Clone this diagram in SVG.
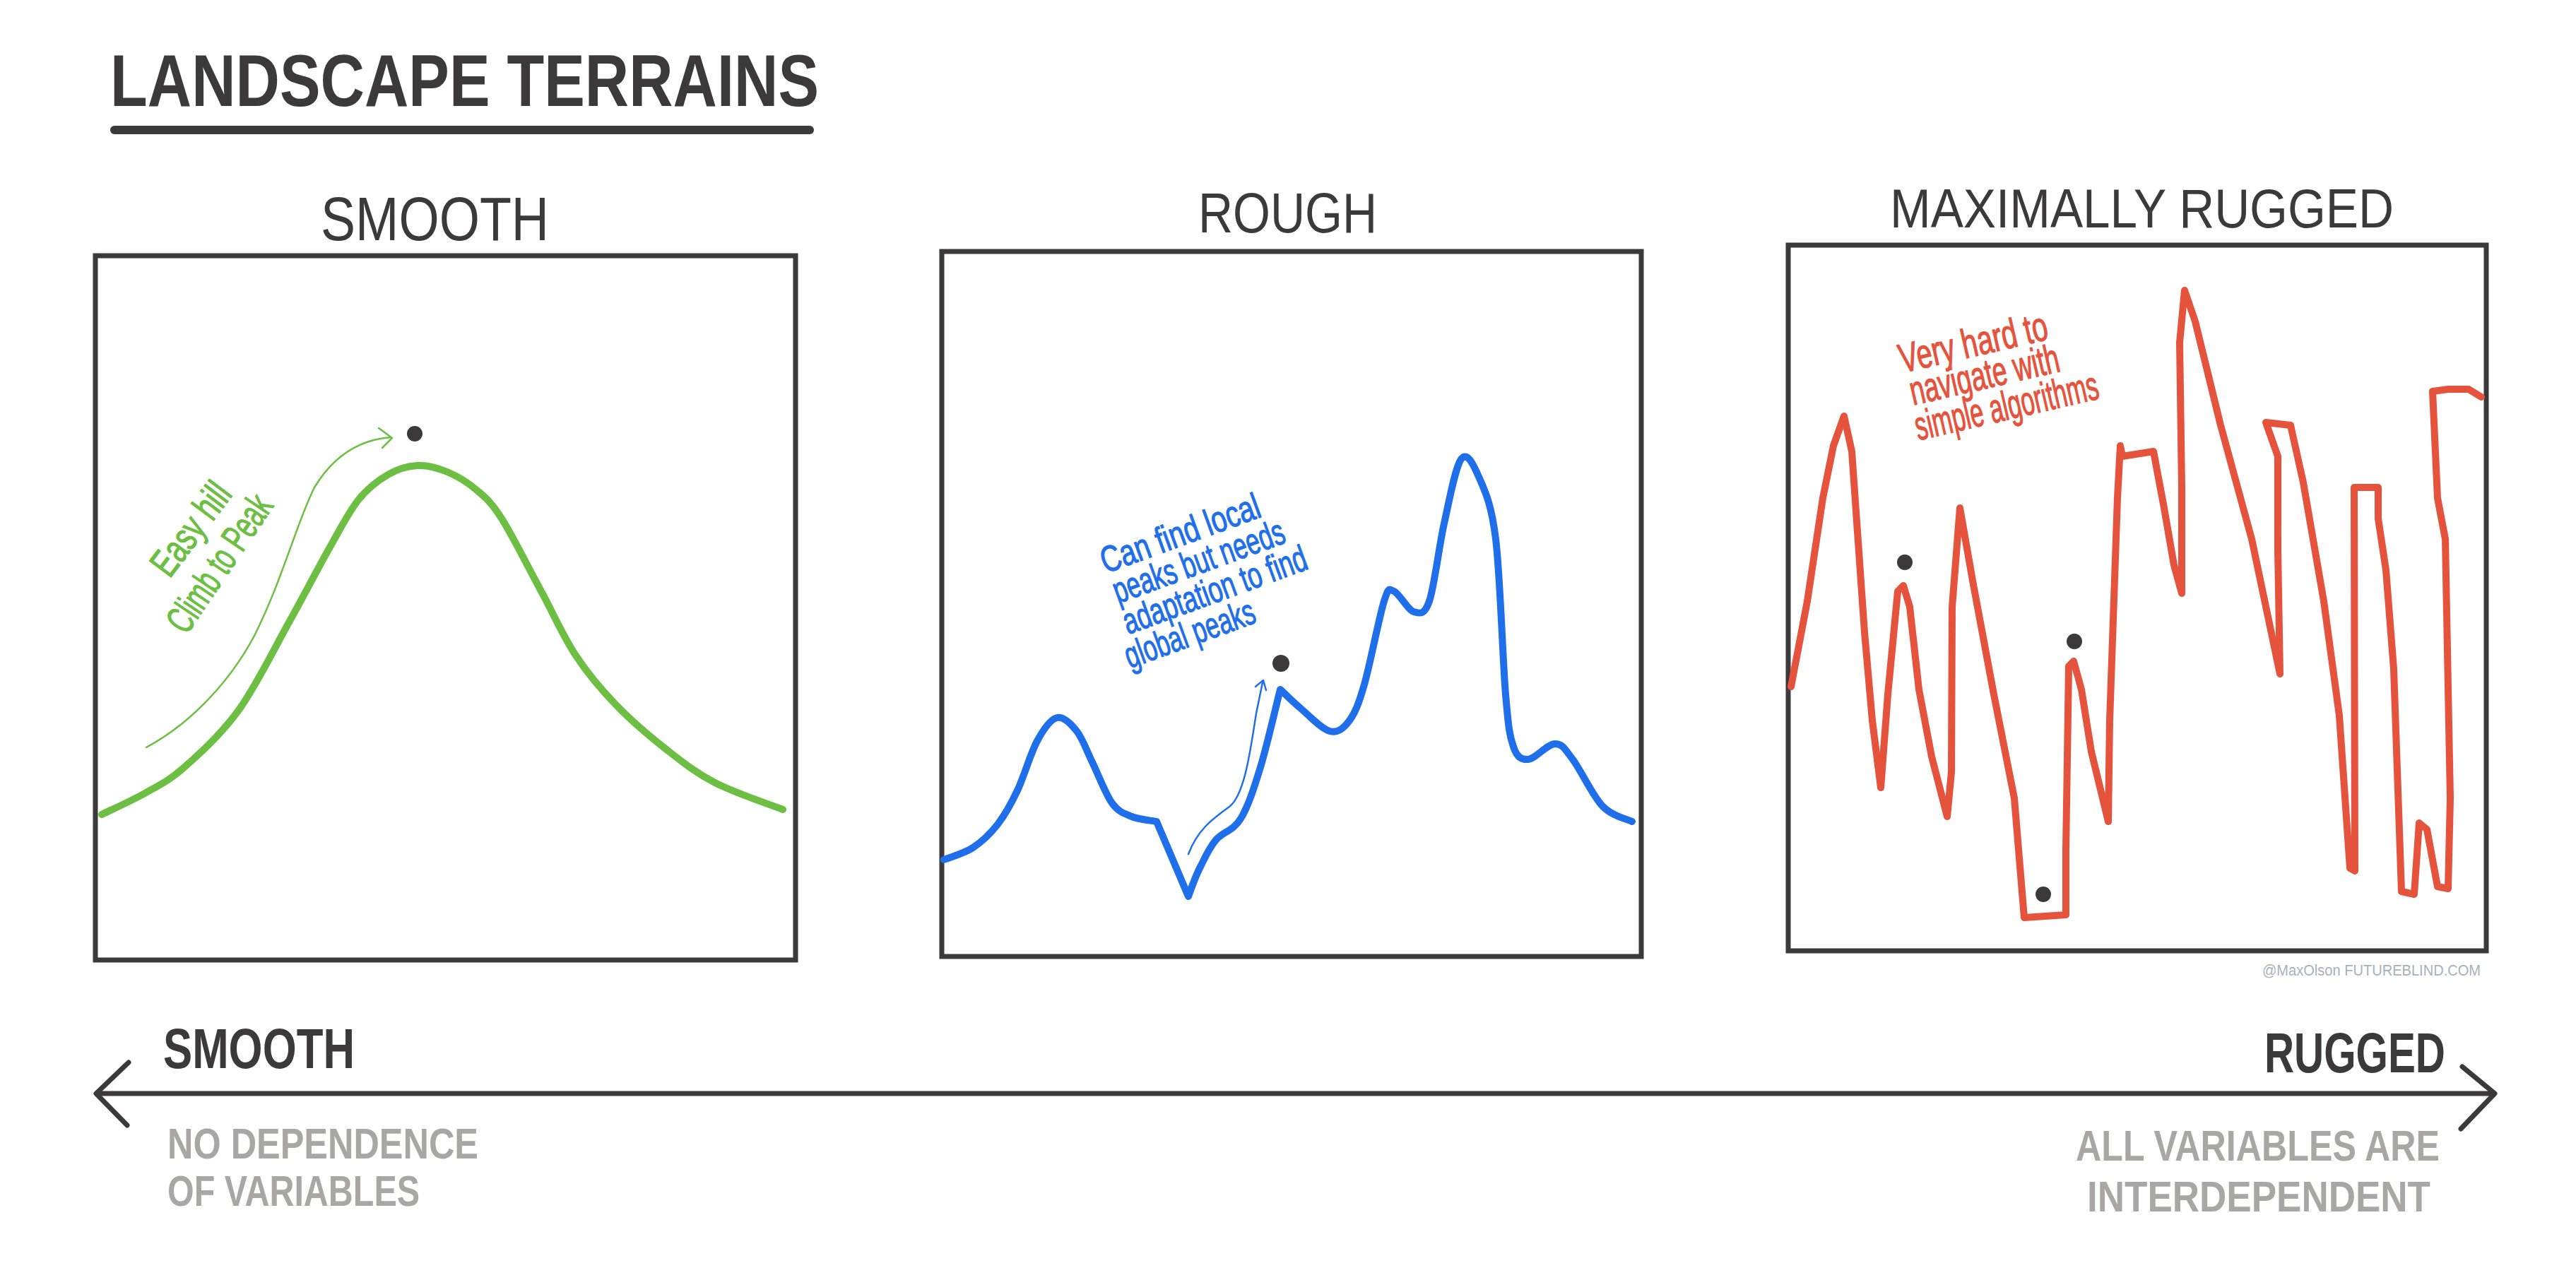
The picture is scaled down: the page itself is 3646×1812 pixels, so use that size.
<svg xmlns="http://www.w3.org/2000/svg" width="3646" height="1812" viewBox="0 0 3646 1812">
<style>
.ink{fill:#3b3939;font-family:"Liberation Sans",Arial,sans-serif}
.b{font-weight:bold}
.gray{fill:#a8a7a3;font-family:"Liberation Sans",Arial,sans-serif;font-weight:bold;font-size:62px}
.box{fill:none;stroke:#3b3939;stroke-width:7;stroke-linejoin:miter}
.curve{fill:none;stroke-width:10;stroke-linecap:round;stroke-linejoin:round}
.thin{fill:none;stroke-width:2.5;stroke-linecap:round;stroke-linejoin:round}
.dot{fill:#3b3939}
.note{font-family:"Liberation Sans",Arial,sans-serif;stroke-width:1.2;stroke-linejoin:round}
</style>
<rect width="3646" height="1812" fill="#ffffff"/>

<g id="title">
<text class="ink b" x="156" y="150" font-size="104" textLength="1003" lengthAdjust="spacingAndGlyphs">LANDSCAPE TERRAINS</text>
<line x1="162" y1="184" x2="1146" y2="184" stroke="#3b3939" stroke-width="12" stroke-linecap="round"/>
</g>

<g id="panel-smooth">
<text class="ink" x="454" y="340" font-size="88" textLength="323" lengthAdjust="spacingAndGlyphs">SMOOTH</text>
<rect class="box" x="135" y="362" width="991" height="997"/>
<path class="curve" stroke="#6cbf42" d="M144,1153 C154,1148 185.5,1134 205,1123 C224.5,1112 238.8,1105.7 261,1086 C283.2,1066.3 313.3,1039.2 338,1005 C362.7,970.8 387.8,918.8 409,881 C430.2,843.2 448.7,806.8 465,778 C481.3,749.2 493,725.7 507,708 C521,690.3 535,680.2 549,672 C563,663.8 577,659.7 591,659 C605,658.3 619,662.2 633,668 C647,673.8 662.2,683 675,694 C687.8,705 694.8,710.2 710,734 C725.2,757.8 748.5,804.7 766,837 C783.5,869.3 797.3,901.2 815,928 C832.7,954.8 850.8,976 872,998 C893.2,1020 918.7,1041.7 942,1060 C965.3,1078.3 984.3,1093.7 1012,1108 C1039.7,1122.3 1092,1139.7 1108,1146"/>
<path class="thin" stroke="#6cbf42" d="M207,1058 C260,1030 320,975 360,900 C400,820 420,740 445,690 C475,640 515,622 553,619"/>
<polyline class="thin" stroke="#6cbf42" points="536,606 555,620 541,634"/>
<circle class="dot" cx="587" cy="614" r="11"/>
<text class="note" fill="#6cbf42" stroke="#6cbf42" font-size="56" transform="translate(240,820) rotate(-53)" textLength="150" lengthAdjust="spacingAndGlyphs">Easy hill</text>
<text class="note" fill="#6cbf42" stroke="#6cbf42" font-size="56" transform="translate(264,900) rotate(-56)" textLength="222" lengthAdjust="spacingAndGlyphs">Climb to Peak</text>
</g>

<g id="panel-rough">
<text class="ink" x="1696" y="329" font-size="80" textLength="253" lengthAdjust="spacingAndGlyphs">ROUGH</text>
<rect class="box" x="1333" y="356" width="990" height="998"/>
<path class="curve" stroke="#1f6feb" d="M1336,1217 C1342.8,1214.2 1364.3,1208.3 1377,1200 C1389.7,1191.7 1401.5,1180.5 1412,1167 C1422.5,1153.5 1430.7,1138.7 1440,1119 C1449.3,1099.3 1458.7,1066.2 1468,1049 C1477.3,1031.8 1486.7,1018.3 1496,1016 C1505.3,1013.7 1515.7,1024.5 1524,1035 C1532.3,1045.5 1537.7,1062 1546,1079 C1554.3,1096 1564.7,1124.2 1574,1137 C1583.3,1149.8 1591.5,1151.7 1602,1156 C1612.5,1160.3 1631.2,1161.8 1637,1163 L1682,1269 C1688,1252 1694,1236 1700,1225 C1706.5,1211.7 1711.7,1200 1721,1189 C1730.3,1178 1745.5,1176.2 1756,1159 C1766.5,1141.8 1774.7,1116.5 1784,1086 C1793.3,1055.5 1807.3,994.3 1812,976 C1816.7,980.3 1828.3,992.2 1840,1002 C1851.7,1011.8 1870.3,1032 1882,1035 C1893.7,1038 1901.8,1031 1910,1020 C1918.2,1009 1922.8,997.2 1931,969 C1939.2,940.8 1952,873 1959,851 C1966,829 1966,834.5 1973,837 C1980,839.5 1992.7,863.7 2001,866 C2009.3,868.3 2015.8,871.8 2023,851 C2030.2,830.2 2036.5,774.5 2044,741 C2051.5,707.5 2059.8,661.3 2068,650 C2076.2,638.7 2084.8,656.2 2093,675 C2101.2,693.8 2110.7,711.7 2117,763 C2123.3,814.3 2126.8,934 2131,983 C2135.2,1032 2136.7,1041.7 2142,1057 C2147.3,1072.3 2153.2,1075.7 2163,1075 C2172.8,1074.3 2190.5,1053 2201,1053 C2211.5,1053 2214.8,1060.3 2226,1075 C2237.2,1089.7 2254,1126.3 2268,1141 C2282,1155.7 2303,1159.3 2310,1163"/>
<path class="thin" stroke="#1f6feb" d="M1682,1209 C1695,1175 1715,1160 1740,1142 C1762,1125 1770,1060 1778,1010 L1787,966"/>
<polyline class="thin" stroke="#1f6feb" points="1777,972 1788,963 1792,977"/>
<circle class="dot" cx="1813" cy="939" r="12"/>
<g transform="translate(1565,812) rotate(-20)" fill="#1f6feb" stroke="#1f6feb" class="note" font-size="52">
<text x="0" y="0" textLength="237" lengthAdjust="spacingAndGlyphs">Can find local</text>
<text x="2" y="46" textLength="255" lengthAdjust="spacingAndGlyphs">peaks but needs</text>
<text x="0" y="92" textLength="274" lengthAdjust="spacingAndGlyphs">adaptation to find</text>
<text x="-14" y="138" textLength="193" lengthAdjust="spacingAndGlyphs">global peaks</text>
</g>
</g>

<g id="panel-rugged">
<text class="ink" x="2675" y="322" font-size="78" textLength="713" lengthAdjust="spacingAndGlyphs">MAXIMALLY RUGGED</text>
<rect class="box" x="2531" y="347" width="988" height="999"/>
<polyline class="curve" stroke="#e5533d" stroke-width="9" points="2535,972 2558,851 2580,705 2595,631 2610,589 2621,639 2639,895 2650,1020 2662,1115 2672,983 2686,837 2694,829 2703,859 2716,976 2734,1071 2756,1156 2762,1093 2763,859 2774,719 2792,822 2822,983 2851,1130 2865,1299 2924,1295 2924,1203 2928,943 2935,936 2946,976 2960,1064 2984,1163 2986,1020 2997,705 3001,631 3004,646 3048,639 3063,719 3077,800 3088,840 3088,690 3085,485 3092,411 3107,455 3143,602 3187,763 3227,954 3224,778 3224,646 3207,598 3242,602 3260,683 3289,851 3311,1013 3326,1229 3333,1233 3332,690 3366,690 3366,734 3377,807 3388,947 3399,1262 3417,1266 3424,1165 3435,1174 3450,1255 3465,1258 3468,1130 3461,763 3450,705 3443,554 3465,551 3494,551 3512,562"/>
<circle class="dot" cx="2696" cy="796" r="11"/>
<circle class="dot" cx="2936" cy="908" r="11"/>
<circle class="dot" cx="2892" cy="1266" r="11"/>
<g transform="translate(2693,528) rotate(-13)" fill="#e5533d" stroke="#e5533d" class="note" font-size="58">
<text x="0" y="0" textLength="214" lengthAdjust="spacingAndGlyphs">Very hard to</text>
<text x="4" y="48" textLength="216" lengthAdjust="spacingAndGlyphs">navigate with</text>
<text x="0" y="98" textLength="265" lengthAdjust="spacingAndGlyphs">simple algorithms</text>
</g>
<text x="3202" y="1381" font-family="'Liberation Sans',Arial,sans-serif" font-size="22" fill="#a7b1bb" textLength="309" lengthAdjust="spacingAndGlyphs">@MaxOlson FUTUREBLIND.COM</text>
</g>

<g id="connectors">
<line x1="138" y1="1548" x2="3530" y2="1548" stroke="#3b3939" stroke-width="7" stroke-linecap="round"/>
<polyline points="182,1504 136,1548 180,1593" fill="none" stroke="#3b3939" stroke-width="7" stroke-linecap="round" stroke-linejoin="round"/>
<polyline points="3485,1510 3531,1548 3483,1598" fill="none" stroke="#3b3939" stroke-width="7" stroke-linecap="round" stroke-linejoin="round"/>
</g>

<g id="axis-labels">
<text class="ink b" x="231" y="1512" font-size="80" textLength="271" lengthAdjust="spacingAndGlyphs">SMOOTH</text>
<text class="ink b" x="3205" y="1518" font-size="80" textLength="256" lengthAdjust="spacingAndGlyphs">RUGGED</text>
<text class="gray" x="237" y="1640" textLength="440" lengthAdjust="spacingAndGlyphs">NO DEPENDENCE</text>
<text class="gray" x="237" y="1707" textLength="357" lengthAdjust="spacingAndGlyphs">OF VARIABLES</text>
<text class="gray" x="2938" y="1643" textLength="515" lengthAdjust="spacingAndGlyphs">ALL VARIABLES ARE</text>
<text class="gray" x="2954" y="1715" textLength="486" lengthAdjust="spacingAndGlyphs">INTERDEPENDENT</text>
</g>
</svg>
